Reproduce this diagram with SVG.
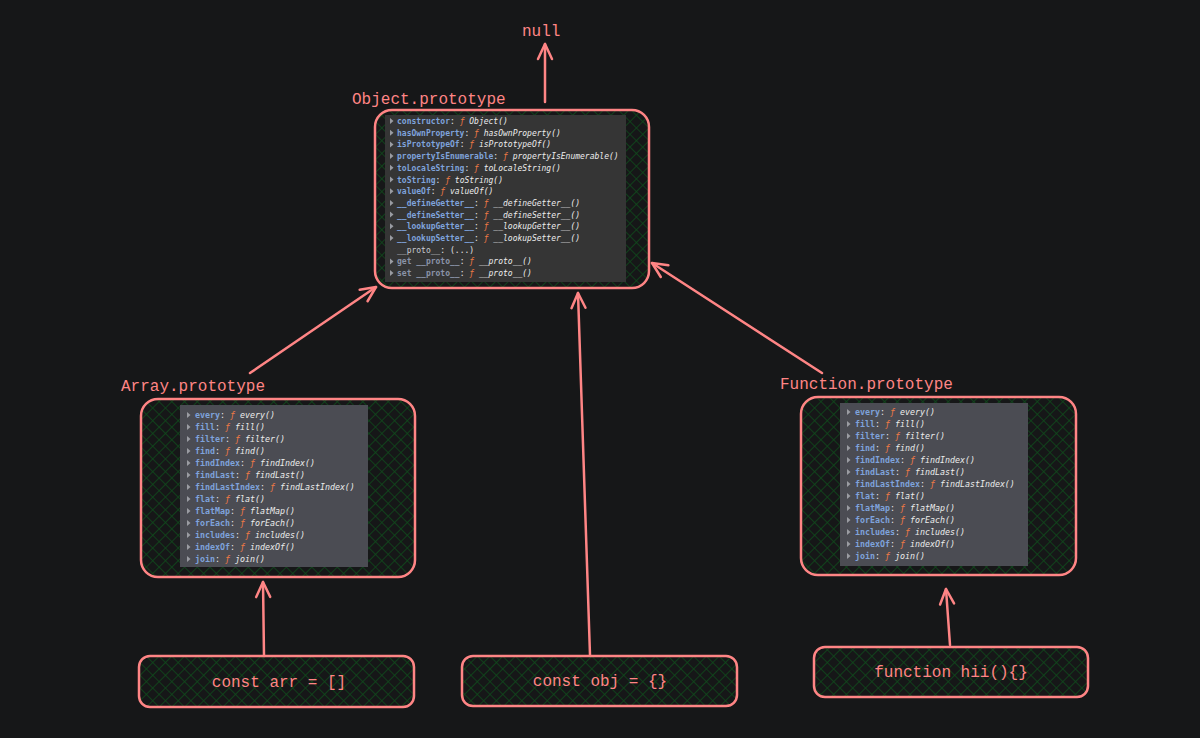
<svg xmlns="http://www.w3.org/2000/svg" width="1200" height="738" viewBox="0 0 1200 738">
<defs>
<pattern id="hatch" width="9" height="9" patternUnits="userSpaceOnUse" patternTransform="rotate(45)">
<rect width="9" height="9" fill="#161718"/>
<path d="M0,0 H9 M0,0 V9" stroke="#0f4a1b" stroke-width="1.6"/>
</pattern>
<marker id="arr" viewBox="0 0 20 20" refX="18" refY="10" markerWidth="20" markerHeight="20" markerUnits="userSpaceOnUse" orient="auto">
<path d="M3,3 L18,10 L3,17" fill="none" stroke="#ff8585" stroke-width="2.5" stroke-linecap="round" stroke-linejoin="round"/>
</marker>
<path id="tri" d="M0,-3 L3.5,0 L0,3 Z" fill="#9a9ca2"/>
</defs>
<style>
.box{fill:url(#hatch);stroke:#ff8585;stroke-width:2.5}
.lbl{font-family:"Liberation Mono","DejaVu Sans Mono",monospace;font-size:16px;fill:#ff8585}
.code{font-family:"Liberation Mono","DejaVu Sans Mono",monospace;font-size:16px;fill:#ff8585;text-anchor:middle}
.pt{font-family:"DejaVu Sans Mono","Liberation Mono",monospace;font-size:8px;fill:#e6e6e6}
.pa{font-family:"DejaVu Sans Mono","Liberation Mono",monospace;font-size:8.3px;fill:#e6e6e6}
.k{fill:#7fa3dc;font-weight:bold}
.kd{fill:#8a93a8;font-weight:bold}
.f{fill:#f07a45;font-style:italic}
.v{font-style:italic;fill:#ececec}
.conn line{stroke:#ff8585;stroke-width:2.5;stroke-linecap:round;marker-end:url(#arr)}
</style>
<rect width="1200" height="738" fill="#161718"/>

<g id="null">
<text class="lbl" x="522" y="36">null</text>
</g>

<g id="object-prototype">
<text class="lbl" x="352" y="104">Object.prototype</text>
<rect class="box" x="375" y="110" width="274" height="178" rx="17"/>
<rect x="385" y="115" width="241" height="167" fill="#353535"/>
<g class="pt">
<use href="#tri" x="390" y="121"/><text x="397" y="124"><tspan class="k">constructor</tspan>: <tspan class="f">ƒ</tspan> <tspan class="v">Object()</tspan></text>
<use href="#tri" x="390" y="132.7"/><text x="397" y="135.7"><tspan class="k">hasOwnProperty</tspan>: <tspan class="f">ƒ</tspan> <tspan class="v">hasOwnProperty()</tspan></text>
<use href="#tri" x="390" y="144.4"/><text x="397" y="147.4"><tspan class="k">isPrototypeOf</tspan>: <tspan class="f">ƒ</tspan> <tspan class="v">isPrototypeOf()</tspan></text>
<use href="#tri" x="390" y="156.1"/><text x="397" y="159.1"><tspan class="k">propertyIsEnumerable</tspan>: <tspan class="f">ƒ</tspan> <tspan class="v">propertyIsEnumerable()</tspan></text>
<use href="#tri" x="390" y="167.8"/><text x="397" y="170.8"><tspan class="k">toLocaleString</tspan>: <tspan class="f">ƒ</tspan> <tspan class="v">toLocaleString()</tspan></text>
<use href="#tri" x="390" y="179.5"/><text x="397" y="182.5"><tspan class="k">toString</tspan>: <tspan class="f">ƒ</tspan> <tspan class="v">toString()</tspan></text>
<use href="#tri" x="390" y="191.2"/><text x="397" y="194.2"><tspan class="k">valueOf</tspan>: <tspan class="f">ƒ</tspan> <tspan class="v">valueOf()</tspan></text>
<use href="#tri" x="390" y="202.9"/><text x="397" y="205.9"><tspan class="k">__defineGetter__</tspan>: <tspan class="f">ƒ</tspan> <tspan class="v">__defineGetter__()</tspan></text>
<use href="#tri" x="390" y="214.6"/><text x="397" y="217.6"><tspan class="k">__defineSetter__</tspan>: <tspan class="f">ƒ</tspan> <tspan class="v">__defineSetter__()</tspan></text>
<use href="#tri" x="390" y="226.3"/><text x="397" y="229.3"><tspan class="k">__lookupGetter__</tspan>: <tspan class="f">ƒ</tspan> <tspan class="v">__lookupGetter__()</tspan></text>
<use href="#tri" x="390" y="238"/><text x="397" y="241"><tspan class="k">__lookupSetter__</tspan>: <tspan class="f">ƒ</tspan> <tspan class="v">__lookupSetter__()</tspan></text>
<text x="397" y="252.7"><tspan fill="#c9ccd2">__proto__</tspan>: (...)</text>
<use href="#tri" x="390" y="261.4"/><text x="397" y="264.4"><tspan class="kd">get __proto__</tspan>: <tspan class="f">ƒ</tspan> <tspan class="v">__proto__()</tspan></text>
<use href="#tri" x="390" y="273.1"/><text x="397" y="276.1"><tspan class="kd">set __proto__</tspan>: <tspan class="f">ƒ</tspan> <tspan class="v">__proto__()</tspan></text>
</g>
</g>

<g id="array-prototype">
<text class="lbl" x="121" y="391">Array.prototype</text>
<rect class="box" x="141" y="399" width="274" height="178" rx="17"/>
<rect x="180" y="405" width="188" height="162" fill="#4b4c53"/>
<g class="pa">
<use href="#tri" x="187" y="415"/><text x="195" y="418"><tspan class="k">every</tspan>: <tspan class="f">ƒ</tspan> <tspan class="v">every()</tspan></text>
<use href="#tri" x="187" y="427"/><text x="195" y="430"><tspan class="k">fill</tspan>: <tspan class="f">ƒ</tspan> <tspan class="v">fill()</tspan></text>
<use href="#tri" x="187" y="439"/><text x="195" y="442"><tspan class="k">filter</tspan>: <tspan class="f">ƒ</tspan> <tspan class="v">filter()</tspan></text>
<use href="#tri" x="187" y="451"/><text x="195" y="454"><tspan class="k">find</tspan>: <tspan class="f">ƒ</tspan> <tspan class="v">find()</tspan></text>
<use href="#tri" x="187" y="463"/><text x="195" y="466"><tspan class="k">findIndex</tspan>: <tspan class="f">ƒ</tspan> <tspan class="v">findIndex()</tspan></text>
<use href="#tri" x="187" y="475"/><text x="195" y="478"><tspan class="k">findLast</tspan>: <tspan class="f">ƒ</tspan> <tspan class="v">findLast()</tspan></text>
<use href="#tri" x="187" y="487"/><text x="195" y="490"><tspan class="k">findLastIndex</tspan>: <tspan class="f">ƒ</tspan> <tspan class="v">findLastIndex()</tspan></text>
<use href="#tri" x="187" y="499"/><text x="195" y="502"><tspan class="k">flat</tspan>: <tspan class="f">ƒ</tspan> <tspan class="v">flat()</tspan></text>
<use href="#tri" x="187" y="511"/><text x="195" y="514"><tspan class="k">flatMap</tspan>: <tspan class="f">ƒ</tspan> <tspan class="v">flatMap()</tspan></text>
<use href="#tri" x="187" y="523"/><text x="195" y="526"><tspan class="k">forEach</tspan>: <tspan class="f">ƒ</tspan> <tspan class="v">forEach()</tspan></text>
<use href="#tri" x="187" y="535"/><text x="195" y="538"><tspan class="k">includes</tspan>: <tspan class="f">ƒ</tspan> <tspan class="v">includes()</tspan></text>
<use href="#tri" x="187" y="547"/><text x="195" y="550"><tspan class="k">indexOf</tspan>: <tspan class="f">ƒ</tspan> <tspan class="v">indexOf()</tspan></text>
<use href="#tri" x="187" y="559"/><text x="195" y="562"><tspan class="k">join</tspan>: <tspan class="f">ƒ</tspan> <tspan class="v">join()</tspan></text>
</g>
</g>

<g id="function-prototype">
<text class="lbl" x="780" y="389">Function.prototype</text>
<rect class="box" x="801" y="397" width="275" height="178" rx="17"/>
<rect x="840" y="403" width="188" height="163" fill="#4b4c53"/>
<g class="pa">
<use href="#tri" x="847" y="412"/><text x="855" y="415"><tspan class="k">every</tspan>: <tspan class="f">ƒ</tspan> <tspan class="v">every()</tspan></text>
<use href="#tri" x="847" y="424"/><text x="855" y="427"><tspan class="k">fill</tspan>: <tspan class="f">ƒ</tspan> <tspan class="v">fill()</tspan></text>
<use href="#tri" x="847" y="436"/><text x="855" y="439"><tspan class="k">filter</tspan>: <tspan class="f">ƒ</tspan> <tspan class="v">filter()</tspan></text>
<use href="#tri" x="847" y="448"/><text x="855" y="451"><tspan class="k">find</tspan>: <tspan class="f">ƒ</tspan> <tspan class="v">find()</tspan></text>
<use href="#tri" x="847" y="460"/><text x="855" y="463"><tspan class="k">findIndex</tspan>: <tspan class="f">ƒ</tspan> <tspan class="v">findIndex()</tspan></text>
<use href="#tri" x="847" y="472"/><text x="855" y="475"><tspan class="k">findLast</tspan>: <tspan class="f">ƒ</tspan> <tspan class="v">findLast()</tspan></text>
<use href="#tri" x="847" y="484"/><text x="855" y="487"><tspan class="k">findLastIndex</tspan>: <tspan class="f">ƒ</tspan> <tspan class="v">findLastIndex()</tspan></text>
<use href="#tri" x="847" y="496"/><text x="855" y="499"><tspan class="k">flat</tspan>: <tspan class="f">ƒ</tspan> <tspan class="v">flat()</tspan></text>
<use href="#tri" x="847" y="508"/><text x="855" y="511"><tspan class="k">flatMap</tspan>: <tspan class="f">ƒ</tspan> <tspan class="v">flatMap()</tspan></text>
<use href="#tri" x="847" y="520"/><text x="855" y="523"><tspan class="k">forEach</tspan>: <tspan class="f">ƒ</tspan> <tspan class="v">forEach()</tspan></text>
<use href="#tri" x="847" y="532"/><text x="855" y="535"><tspan class="k">includes</tspan>: <tspan class="f">ƒ</tspan> <tspan class="v">includes()</tspan></text>
<use href="#tri" x="847" y="544"/><text x="855" y="547"><tspan class="k">indexOf</tspan>: <tspan class="f">ƒ</tspan> <tspan class="v">indexOf()</tspan></text>
<use href="#tri" x="847" y="556"/><text x="855" y="559"><tspan class="k">join</tspan>: <tspan class="f">ƒ</tspan> <tspan class="v">join()</tspan></text>
</g>
</g>

<g id="const-arr">
<rect class="box" x="139" y="656" width="275" height="51" rx="11"/>
<text class="code" x="279" y="687">const arr = []</text>
</g>

<g id="const-obj">
<rect class="box" x="462" y="656" width="275" height="50" rx="11"/>
<text class="code" x="600" y="686">const obj = {}</text>
</g>

<g id="function-hii">
<rect class="box" x="814" y="647" width="274" height="50" rx="11"/>
<text class="code" x="951" y="677">function hii(){}</text>
</g>

<g id="connectors" class="conn">
<line x1="545" y1="102" x2="545" y2="44"/>
<line x1="250" y1="373" x2="376" y2="287"/>
<line x1="590" y1="655" x2="578" y2="293"/>
<line x1="822" y1="373" x2="652" y2="263"/>
<line x1="264" y1="656" x2="263" y2="582"/>
<line x1="950" y1="645" x2="946" y2="589"/>
</g>
</svg>
